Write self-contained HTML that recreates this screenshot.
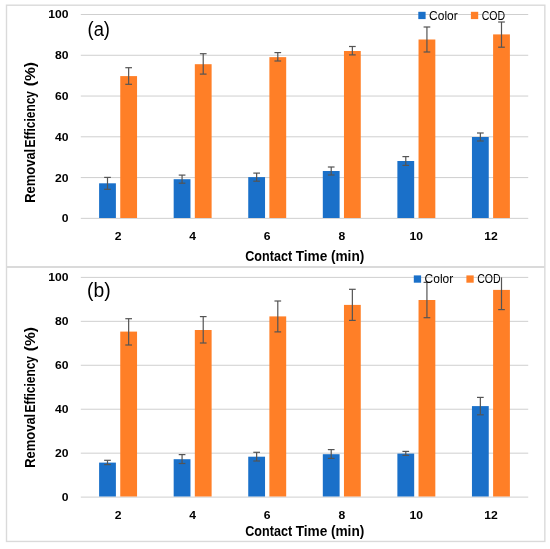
<!DOCTYPE html>
<html lang="en">
<head>
<meta charset="utf-8">
<title>Removal Efficiency vs Contact Time</title>
<style>
html,body{margin:0;padding:0;background:#fff;}
body{width:550px;height:549px;overflow:hidden;}
svg{display:block;}
text{font-family:"Liberation Sans",sans-serif;fill:#000;}
.tk text{font-size:11.5px;font-weight:bold;}
.ti text{font-size:14px;font-weight:bold;}
.lb{font-size:20px;}
.lg text{font-size:12.9px;}
</style>
</head>
<body>
<svg width="550" height="549" viewBox="0 0 550 549">
<rect x="0" y="0" width="550" height="549" fill="#fff"/>
<rect x="6.5" y="5.2" width="538.35" height="536.25" fill="none" stroke="#dadada" stroke-width="1.4"/>
<line x1="6.4" x2="544.8" y1="266.9" y2="266.9" stroke="#dadada" stroke-width="2"/>
<g id="chart-a">
<g class="grid">
<line x1="80.81" x2="528.23" y1="218.35" y2="218.35" stroke="#cfcfcf" stroke-width="1"/>
<line x1="80.81" x2="528.23" y1="177.58" y2="177.58" stroke="#cfcfcf" stroke-width="1"/>
<line x1="80.81" x2="528.23" y1="136.81" y2="136.81" stroke="#cfcfcf" stroke-width="1"/>
<line x1="80.81" x2="528.23" y1="96.04" y2="96.04" stroke="#cfcfcf" stroke-width="1"/>
<line x1="80.81" x2="528.23" y1="55.27" y2="55.27" stroke="#cfcfcf" stroke-width="1"/>
<line x1="80.81" x2="528.23" y1="14.5" y2="14.5" stroke="#cfcfcf" stroke-width="1"/>
</g>
<g class="bars">
<rect x="99.1" y="183.3" width="16.8" height="34.7" fill="#1a70c9"/>
<rect x="120.25" y="76.1" width="16.8" height="141.9" fill="#ff7f27"/>
<rect x="173.67" y="179.2" width="16.8" height="38.8" fill="#1a70c9"/>
<rect x="194.82" y="64.2" width="16.8" height="153.8" fill="#ff7f27"/>
<rect x="248.24" y="177.1" width="16.8" height="40.9" fill="#1a70c9"/>
<rect x="269.39" y="57.15" width="16.8" height="160.85" fill="#ff7f27"/>
<rect x="322.81" y="171" width="16.8" height="47" fill="#1a70c9"/>
<rect x="343.96" y="51" width="16.8" height="167" fill="#ff7f27"/>
<rect x="397.38" y="161" width="16.8" height="57" fill="#1a70c9"/>
<rect x="418.53" y="39.5" width="16.8" height="178.5" fill="#ff7f27"/>
<rect x="471.95" y="137" width="16.8" height="81" fill="#1a70c9"/>
<rect x="493.1" y="34.4" width="16.8" height="183.6" fill="#ff7f27"/>
</g>
<g class="err" stroke="#545454" stroke-width="1.2" fill="none">
<line x1="107.5" x2="107.5" y1="177.4" y2="189.3"/>
<line x1="104.15" x2="110.85" y1="177.4" y2="177.4"/>
<line x1="104.15" x2="110.85" y1="189.3" y2="189.3"/>
<line x1="128.65" x2="128.65" y1="67.7" y2="84.3"/>
<line x1="125.3" x2="132" y1="67.7" y2="67.7"/>
<line x1="125.3" x2="132" y1="84.3" y2="84.3"/>
<line x1="182.07" x2="182.07" y1="175.1" y2="183.2"/>
<line x1="178.72" x2="185.42" y1="175.1" y2="175.1"/>
<line x1="178.72" x2="185.42" y1="183.2" y2="183.2"/>
<line x1="203.22" x2="203.22" y1="53.7" y2="74.1"/>
<line x1="199.87" x2="206.57" y1="53.7" y2="53.7"/>
<line x1="199.87" x2="206.57" y1="74.1" y2="74.1"/>
<line x1="256.64" x2="256.64" y1="173.1" y2="181.2"/>
<line x1="253.29" x2="259.99" y1="173.1" y2="173.1"/>
<line x1="253.29" x2="259.99" y1="181.2" y2="181.2"/>
<line x1="277.79" x2="277.79" y1="52.6" y2="61"/>
<line x1="274.44" x2="281.14" y1="52.6" y2="52.6"/>
<line x1="274.44" x2="281.14" y1="61" y2="61"/>
<line x1="331.21" x2="331.21" y1="167" y2="175"/>
<line x1="327.86" x2="334.56" y1="167" y2="167"/>
<line x1="327.86" x2="334.56" y1="175" y2="175"/>
<line x1="352.36" x2="352.36" y1="46.5" y2="54.9"/>
<line x1="349.01" x2="355.71" y1="46.5" y2="46.5"/>
<line x1="349.01" x2="355.71" y1="54.9" y2="54.9"/>
<line x1="405.78" x2="405.78" y1="156.6" y2="165.4"/>
<line x1="402.43" x2="409.13" y1="156.6" y2="156.6"/>
<line x1="402.43" x2="409.13" y1="165.4" y2="165.4"/>
<line x1="426.93" x2="426.93" y1="27" y2="52"/>
<line x1="423.58" x2="430.28" y1="27" y2="27"/>
<line x1="423.58" x2="430.28" y1="52" y2="52"/>
<line x1="480.35" x2="480.35" y1="133" y2="141"/>
<line x1="477" x2="483.7" y1="133" y2="133"/>
<line x1="477" x2="483.7" y1="141" y2="141"/>
<line x1="501.5" x2="501.5" y1="22" y2="47.2"/>
<line x1="498.15" x2="504.85" y1="22" y2="22"/>
<line x1="498.15" x2="504.85" y1="47.2" y2="47.2"/>
</g>
<g class="tk">
<text x="68.6" y="222.3" text-anchor="end" textLength="6.76" lengthAdjust="spacingAndGlyphs">0</text>
<text x="68.6" y="181.53" text-anchor="end" textLength="13.52" lengthAdjust="spacingAndGlyphs">20</text>
<text x="68.6" y="140.76" text-anchor="end" textLength="13.52" lengthAdjust="spacingAndGlyphs">40</text>
<text x="68.6" y="99.99" text-anchor="end" textLength="13.52" lengthAdjust="spacingAndGlyphs">60</text>
<text x="68.6" y="59.22" text-anchor="end" textLength="13.52" lengthAdjust="spacingAndGlyphs">80</text>
<text x="68.6" y="18.45" text-anchor="end" textLength="20.28" lengthAdjust="spacingAndGlyphs">100</text>
<text x="118.1" y="239.9" text-anchor="middle" textLength="6.76" lengthAdjust="spacingAndGlyphs">2</text>
<text x="192.67" y="239.9" text-anchor="middle" textLength="6.76" lengthAdjust="spacingAndGlyphs">4</text>
<text x="267.24" y="239.9" text-anchor="middle" textLength="6.76" lengthAdjust="spacingAndGlyphs">6</text>
<text x="341.81" y="239.9" text-anchor="middle" textLength="6.76" lengthAdjust="spacingAndGlyphs">8</text>
<text x="416.38" y="239.9" text-anchor="middle" textLength="13.52" lengthAdjust="spacingAndGlyphs">10</text>
<text x="490.95" y="239.9" text-anchor="middle" textLength="13.52" lengthAdjust="spacingAndGlyphs">12</text>
</g>
<g class="ti">
<text x="245.3" y="260.7" textLength="46.8" lengthAdjust="spacingAndGlyphs">Contact</text>
<text x="295.7" y="260.7" textLength="31.7" lengthAdjust="spacingAndGlyphs">Time</text>
<text x="330.9" y="260.7" textLength="33.4" lengthAdjust="spacingAndGlyphs">(min)</text>
<text transform="translate(35,202.8) rotate(-90)" textLength="54.0" lengthAdjust="spacingAndGlyphs">Removal</text>
<text transform="translate(35,147.5) rotate(-90)" textLength="56.5" lengthAdjust="spacingAndGlyphs">Efficiency</text>
<text transform="translate(35,86.3) rotate(-90)" textLength="24.2" lengthAdjust="spacingAndGlyphs">(%)</text>
</g>
<text x="87.5" y="35.7" class="lb" textLength="22.5" lengthAdjust="spacingAndGlyphs">(a)</text>
<g class="lg">
<rect x="418.3" y="11.8" width="7.3" height="7.3" fill="#1a70c9"/>
<text x="429.1" y="19.7" textLength="28.6" lengthAdjust="spacingAndGlyphs">Color</text>
<rect x="470.9" y="11.8" width="7.3" height="7.3" fill="#ff7f27"/>
<text x="481.7" y="19.7" textLength="23.4" lengthAdjust="spacingAndGlyphs">COD</text>
</g>
</g>
<g id="chart-b">
<g class="grid">
<line x1="80.81" x2="528.23" y1="497.1" y2="497.1" stroke="#cfcfcf" stroke-width="1"/>
<line x1="80.81" x2="528.23" y1="453.16" y2="453.16" stroke="#cfcfcf" stroke-width="1"/>
<line x1="80.81" x2="528.23" y1="409.22" y2="409.22" stroke="#cfcfcf" stroke-width="1"/>
<line x1="80.81" x2="528.23" y1="365.28" y2="365.28" stroke="#cfcfcf" stroke-width="1"/>
<line x1="80.81" x2="528.23" y1="321.34" y2="321.34" stroke="#cfcfcf" stroke-width="1"/>
<line x1="80.81" x2="528.23" y1="277.4" y2="277.4" stroke="#cfcfcf" stroke-width="1"/>
</g>
<g class="bars">
<rect x="99.1" y="462.6" width="16.8" height="33.9" fill="#1a70c9"/>
<rect x="120.25" y="331.6" width="16.8" height="164.9" fill="#ff7f27"/>
<rect x="173.67" y="459.2" width="16.8" height="37.3" fill="#1a70c9"/>
<rect x="194.82" y="330" width="16.8" height="166.5" fill="#ff7f27"/>
<rect x="248.24" y="456.7" width="16.8" height="39.8" fill="#1a70c9"/>
<rect x="269.39" y="316.4" width="16.8" height="180.1" fill="#ff7f27"/>
<rect x="322.81" y="454.2" width="16.8" height="42.3" fill="#1a70c9"/>
<rect x="343.96" y="304.9" width="16.8" height="191.6" fill="#ff7f27"/>
<rect x="397.38" y="453.6" width="16.8" height="42.9" fill="#1a70c9"/>
<rect x="418.53" y="300" width="16.8" height="196.5" fill="#ff7f27"/>
<rect x="471.95" y="406.1" width="16.8" height="90.4" fill="#1a70c9"/>
<rect x="493.1" y="289.9" width="16.8" height="206.6" fill="#ff7f27"/>
</g>
<g class="err" stroke="#545454" stroke-width="1.2" fill="none">
<line x1="107.5" x2="107.5" y1="460.3" y2="464.6"/>
<line x1="104.15" x2="110.85" y1="460.3" y2="460.3"/>
<line x1="104.15" x2="110.85" y1="464.6" y2="464.6"/>
<line x1="128.65" x2="128.65" y1="318.7" y2="345"/>
<line x1="125.3" x2="132" y1="318.7" y2="318.7"/>
<line x1="125.3" x2="132" y1="345" y2="345"/>
<line x1="182.07" x2="182.07" y1="454.6" y2="463.5"/>
<line x1="178.72" x2="185.42" y1="454.6" y2="454.6"/>
<line x1="178.72" x2="185.42" y1="463.5" y2="463.5"/>
<line x1="203.22" x2="203.22" y1="316.6" y2="343"/>
<line x1="199.87" x2="206.57" y1="316.6" y2="316.6"/>
<line x1="199.87" x2="206.57" y1="343" y2="343"/>
<line x1="256.64" x2="256.64" y1="452.3" y2="461"/>
<line x1="253.29" x2="259.99" y1="452.3" y2="452.3"/>
<line x1="253.29" x2="259.99" y1="461" y2="461"/>
<line x1="277.79" x2="277.79" y1="301" y2="331.9"/>
<line x1="274.44" x2="281.14" y1="301" y2="301"/>
<line x1="274.44" x2="281.14" y1="331.9" y2="331.9"/>
<line x1="331.21" x2="331.21" y1="449.6" y2="458.4"/>
<line x1="327.86" x2="334.56" y1="449.6" y2="449.6"/>
<line x1="327.86" x2="334.56" y1="458.4" y2="458.4"/>
<line x1="352.36" x2="352.36" y1="289.3" y2="320.4"/>
<line x1="349.01" x2="355.71" y1="289.3" y2="289.3"/>
<line x1="349.01" x2="355.71" y1="320.4" y2="320.4"/>
<line x1="405.78" x2="405.78" y1="451.4" y2="455.4"/>
<line x1="402.43" x2="409.13" y1="451.4" y2="451.4"/>
<line x1="402.43" x2="409.13" y1="455.4" y2="455.4"/>
<line x1="426.93" x2="426.93" y1="282.4" y2="317.7"/>
<line x1="423.58" x2="430.28" y1="282.4" y2="282.4"/>
<line x1="423.58" x2="430.28" y1="317.7" y2="317.7"/>
<line x1="480.35" x2="480.35" y1="397.4" y2="414.8"/>
<line x1="477" x2="483.7" y1="397.4" y2="397.4"/>
<line x1="477" x2="483.7" y1="414.8" y2="414.8"/>
<line x1="501.5" x2="501.5" y1="277.4" y2="309.6"/>
<line x1="498.15" x2="504.85" y1="309.6" y2="309.6"/>
</g>
<g class="tk">
<text x="68.6" y="501.05" text-anchor="end" textLength="6.76" lengthAdjust="spacingAndGlyphs">0</text>
<text x="68.6" y="457.11" text-anchor="end" textLength="13.52" lengthAdjust="spacingAndGlyphs">20</text>
<text x="68.6" y="413.17" text-anchor="end" textLength="13.52" lengthAdjust="spacingAndGlyphs">40</text>
<text x="68.6" y="369.23" text-anchor="end" textLength="13.52" lengthAdjust="spacingAndGlyphs">60</text>
<text x="68.6" y="325.29" text-anchor="end" textLength="13.52" lengthAdjust="spacingAndGlyphs">80</text>
<text x="68.6" y="281.35" text-anchor="end" textLength="20.28" lengthAdjust="spacingAndGlyphs">100</text>
<text x="118.1" y="518.5" text-anchor="middle" textLength="6.76" lengthAdjust="spacingAndGlyphs">2</text>
<text x="192.67" y="518.5" text-anchor="middle" textLength="6.76" lengthAdjust="spacingAndGlyphs">4</text>
<text x="267.24" y="518.5" text-anchor="middle" textLength="6.76" lengthAdjust="spacingAndGlyphs">6</text>
<text x="341.81" y="518.5" text-anchor="middle" textLength="6.76" lengthAdjust="spacingAndGlyphs">8</text>
<text x="416.38" y="518.5" text-anchor="middle" textLength="13.52" lengthAdjust="spacingAndGlyphs">10</text>
<text x="490.95" y="518.5" text-anchor="middle" textLength="13.52" lengthAdjust="spacingAndGlyphs">12</text>
</g>
<g class="ti">
<text x="245.3" y="535.7" textLength="46.8" lengthAdjust="spacingAndGlyphs">Contact</text>
<text x="295.7" y="535.7" textLength="31.7" lengthAdjust="spacingAndGlyphs">Time</text>
<text x="330.9" y="535.7" textLength="33.4" lengthAdjust="spacingAndGlyphs">(min)</text>
<text transform="translate(35,467.8) rotate(-90)" textLength="54.0" lengthAdjust="spacingAndGlyphs">Removal</text>
<text transform="translate(35,412.5) rotate(-90)" textLength="56.5" lengthAdjust="spacingAndGlyphs">Efficiency</text>
<text transform="translate(35,351.3) rotate(-90)" textLength="24.2" lengthAdjust="spacingAndGlyphs">(%)</text>
</g>
<text x="87.0" y="296.9" class="lb" textLength="23.6" lengthAdjust="spacingAndGlyphs">(b)</text>
<g class="lg">
<rect x="413.8" y="275.4" width="7.3" height="7.3" fill="#1a70c9"/>
<text x="424.6" y="283.3" textLength="28.6" lengthAdjust="spacingAndGlyphs">Color</text>
<rect x="466.4" y="275.4" width="7.3" height="7.3" fill="#ff7f27"/>
<text x="477.2" y="283.3" textLength="23.4" lengthAdjust="spacingAndGlyphs">COD</text>
</g>
</g>
</svg>
</body>
</html>
